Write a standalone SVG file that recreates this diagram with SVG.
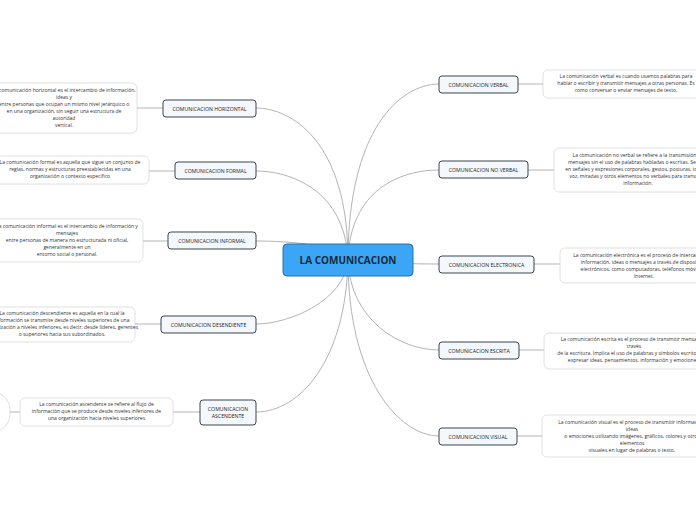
<svg xmlns="http://www.w3.org/2000/svg" width="696" height="520" viewBox="0 0 696 520">
<style>
.c{fill:none;stroke:#b4b4b4;stroke-width:1}
.n{fill:#f4f8fc;stroke:#3a4450;stroke-width:1}
.d{fill:#fff;stroke:#d8d8d8;stroke-width:0.8}
.nt{font-family:"Open Sans","DejaVu Sans",sans-serif;font-size:5.2px;fill:#222;text-anchor:middle}
.dt{font-family:"Open Sans","DejaVu Sans",sans-serif;font-size:5px;fill:#333;text-anchor:middle}
</style>
<rect width="696" height="520" fill="#fff"/>
<g id="connectors">
<path class="c" d="M348,260 C348,140 290,108 256,108"/>
<path class="c" d="M348,260 C345,190 290,171 256,171"/>
<path class="c" d="M348,260 C340,245 290,241 256,241"/>
<path class="c" d="M348,260 C345,300 290,324 256,324"/>
<path class="c" d="M348,260 C346,360 300,412 256,412"/>
<path class="c" d="M348,260 C348,130 400,84 439,84"/>
<path class="c" d="M348,260 C350,190 400,170 439,170"/>
<path class="c" d="M348,260 C352,262 400,264 439,264"/>
<path class="c" d="M348,260 C350,320 400,350 439,350"/>
<path class="c" d="M348,260 C348,380 400,436 439,436"/>
<path class="c" d="M163,108H137M175,171H149M168,241H143M161,324H135M200,412H173M20,412H10M518,84H543M528,170H554M534,264H560M519,350H544M517,436H542"/>
</g>
<g id="center"><rect x="283" y="244" width="130" height="32" rx="4" fill="#3aa6f5" stroke="#2d6fa6"/><text x="348" y="264" font-family="'Open Sans','DejaVu Sans',sans-serif" font-size="10" font-weight="bold" fill="#1a2a3a" text-anchor="middle">LA COMUNICACION</text></g>
<g id="n-horizontal"><rect class="n" x="163" y="100" width="93" height="17" rx="3"/><text class="nt" x="209.5" y="110.5">COMUNICACION HORIZONTAL</text></g>
<g id="n-formal"><rect class="n" x="175" y="162" width="81" height="17" rx="3"/><text class="nt" x="215.5" y="172.5">COMUNICACION FORMAL</text></g>
<g id="n-informal"><rect class="n" x="168" y="232" width="88" height="17" rx="3"/><text class="nt" x="212" y="242.5">COMUNICACION INFORMAL</text></g>
<g id="n-desendiente"><rect class="n" x="161" y="316" width="95" height="17" rx="3"/><text class="nt" x="208.5" y="326.5">COMUNICACION DESENDIENTE</text></g>
<g id="n-ascendente"><rect class="n" x="200" y="400" width="56" height="25" rx="3"/><text class="nt" x="228" y="410.5">COMUNICACION</text><text class="nt" x="228" y="417.5">ASCENDENTE</text></g>
<g id="n-verbal"><rect class="n" x="439" y="76" width="79" height="17" rx="3"/><text class="nt" x="478.5" y="86.5">COMUNICACION VERBAL</text></g>
<g id="n-noverbal"><rect class="n" x="439" y="161" width="89" height="17" rx="3"/><text class="nt" x="483.5" y="171.5">COMUNICACION NO VERBAL</text></g>
<g id="n-electronica"><rect class="n" x="439" y="256" width="95" height="17" rx="3"/><text class="nt" x="486.5" y="266.5">COMUNICACION ELECTRONICA</text></g>
<g id="n-escrita"><rect class="n" x="439" y="342" width="80" height="17" rx="3"/><text class="nt" x="479" y="352.5">COMUNICACION ESCRITA</text></g>
<g id="n-visual"><rect class="n" x="439" y="428" width="78" height="17" rx="3"/><text class="nt" x="478" y="438.5">COMUNICACION VISUAL</text></g>
<g id="d-horizontal"><rect class="d" x="-10" y="83" width="147" height="50" rx="5"/>
<text class="dt" x="64" y="92">La comunicación horizontal es el intercambio de información,</text><text class="dt" x="64" y="99">ideas y</text><text class="dt" x="64" y="106">entre personas que ocupan un mismo nivel jerárquico o</text><text class="dt" x="64" y="113">en una organización, sin seguir una estructura de</text><text class="dt" x="64" y="120">autoridad</text><text class="dt" x="64" y="127">vertical.</text></g>
<g id="d-formal"><rect class="d" x="-10" y="156" width="159" height="28" rx="5"/>
<text class="dt" x="70" y="164">La comunicación formal es aquella que sigue un conjunto de</text><text class="dt" x="70" y="171">reglas, normas y estructuras preestablecidas en una</text><text class="dt" x="70" y="178">organización o contexto específico</text></g>
<g id="d-informal"><rect class="d" x="-10" y="219" width="153" height="43" rx="5"/>
<text class="dt" x="67" y="228">La comunicación informal es el intercambio de información y</text><text class="dt" x="67" y="235">mensajes</text><text class="dt" x="67" y="242">entre personas de manera no estructurada ni oficial,</text><text class="dt" x="67" y="249">generalmente en un</text><text class="dt" x="67" y="256">entorno social o personal.</text></g>
<g id="d-desendiente"><rect class="d" x="-10" y="307" width="145" height="35" rx="5"/>
<text class="dt" x="62" y="315">La comunicación descendiente es aquella en la cual la</text><text class="dt" x="62" y="322">información se transmite desde niveles superiores de una</text><text class="dt" x="62" y="329">organización a niveles inferiores, es decir, desde líderes, gerentes</text><text class="dt" x="62" y="336">o superiores hacia sus subordinados.</text></g>
<g id="d-ascendente"><rect class="d" x="20" y="398" width="153" height="28" rx="5"/>
<text class="dt" x="96.5" y="406">La comunicación ascendente se refiere al flujo de</text><text class="dt" x="96.5" y="413">información que se produce desde niveles inferiores de</text><text class="dt" x="96.5" y="420">una organización hacia niveles superiores</text></g>
<g id="d-ascendente-2"><rect class="d" x="-30" y="392" width="40" height="40" rx="18"/></g>
<g id="d-verbal"><rect class="d" x="543" y="70" width="170" height="28" rx="5"/>
<text class="dt" x="626" y="78">La comunicación verbal es cuando usamos palabras para</text><text class="dt" x="626" y="85">hablar o escribir y transmitir mensajes a otras personas. Es</text><text class="dt" x="626" y="92">como conversar o enviar mensajes de texto.</text></g>
<g id="d-noverbal"><rect class="d" x="554" y="148" width="170" height="44" rx="5"/>
<text class="dt" x="638" y="157">La comunicación no verbal se refiere a la transmisión de</text><text class="dt" x="638" y="164">mensajes sin el uso de palabras habladas o escritas. Se basa</text><text class="dt" x="638" y="171">en señales y expresiones corporales, gestos, posturas, tono de</text><text class="dt" x="638" y="178">voz, miradas y otros elementos no verbales para transmitir</text><text class="dt" x="638" y="185">información.</text></g>
<g id="d-electronica"><rect class="d" x="560" y="248" width="170" height="35" rx="5"/>
<text class="dt" x="644" y="257">La comunicación electrónica es el proceso de intercambio de</text><text class="dt" x="644" y="264">información, ideas o mensajes a través de dispositivos</text><text class="dt" x="644" y="271">electrónicos, como computadoras, teléfonos móviles e</text><text class="dt" x="644" y="278">Internet.</text></g>
<g id="d-escrita"><rect class="d" x="544" y="333" width="180" height="36" rx="5"/>
<text class="dt" x="634" y="341">La comunicación escrita es el proceso de transmitir mensajes a</text><text class="dt" x="634" y="348">través</text><text class="dt" x="634" y="355">de la escritura. Implica el uso de palabras y símbolos escritos para</text><text class="dt" x="634" y="362">expresar ideas, pensamientos, información y emociones.</text></g>
<g id="d-visual"><rect class="d" x="542" y="415" width="180" height="42" rx="5"/>
<text class="dt" x="632" y="424">La comunicación visual es el proceso de transmitir información,</text><text class="dt" x="632" y="431">ideas</text><text class="dt" x="632" y="438">o emociones utilizando imágenes, gráficos, colores y otros</text><text class="dt" x="632" y="445">elementos</text><text class="dt" x="632" y="452">visuales en lugar de palabras o texto.</text></g>
</svg>
